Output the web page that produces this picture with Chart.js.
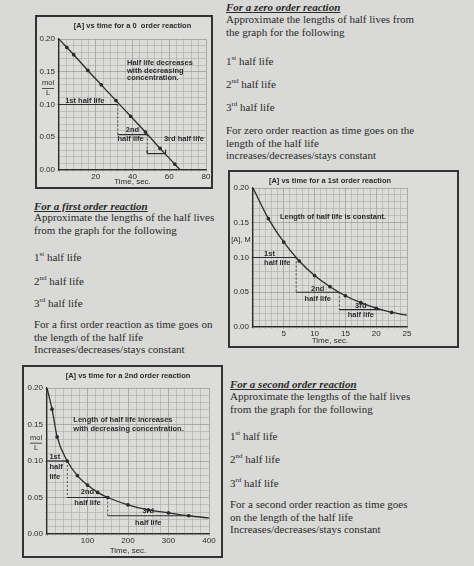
<!DOCTYPE html>
<html>
<head>
<meta charset="utf-8">
<script src="https://cdn.jsdelivr.net/npm/chart.js@4.4.0/dist/chart.umd.min.js"></script>
<style>
  body { margin: 0; width: 474px; height: 566px; background: #d9d9d7; position: relative; overflow: hidden;
         font-family: "Liberation Serif", "DejaVu Serif", serif; color: #2a2a2a; }
  .box { position: absolute; border: 2px solid #333; background: #dcdcda; box-sizing: border-box; }
  .box canvas { display: block; }
  .t { position: absolute; font-size: 11px; line-height: 12.5px; white-space: nowrap; }
  .h { font-weight: bold; font-style: italic; text-decoration: underline; }
  sup { font-size: 7px; }
</style>
</head>
<body>
<div class="box" style="left:35px;top:15px;width:178px;height:174px"><canvas id="chart1" width="174" height="170"></canvas></div>
<div class="box" style="left:228px;top:170px;width:231px;height:178px"><canvas id="chart2" width="227" height="174"></canvas></div>
<div class="box" style="left:22px;top:365px;width:201px;height:193px"><canvas id="chart3" width="197" height="189"></canvas></div>

<div class="t h" style="left:226px;top:1px">For a zero order reaction</div>
<div class="t" style="left:226px;top:13px">Approximate the lengths of half lives from<br>the graph for the following</div>
<div class="t" style="left:226px;top:52px">1<sup>st</sup> half life</div>
<div class="t" style="left:226px;top:75px">2<sup>nd</sup> half life</div>
<div class="t" style="left:226px;top:98px">3<sup>rd</sup> half life</div>
<div class="t" style="left:226px;top:124px">For zero order reaction as time goes on the<br>length of the half life<br>increases/decreases/stays constant</div>

<div class="t h" style="left:34px;top:200px">For a first order reaction</div>
<div class="t" style="left:34px;top:211px">Approximate the lengths of the half lives<br>from the graph for the following</div>
<div class="t" style="left:34px;top:248px">1<sup>st</sup> half life</div>
<div class="t" style="left:34px;top:272px">2<sup>nd</sup> half life</div>
<div class="t" style="left:34px;top:294px">3<sup>rd</sup> half life</div>
<div class="t" style="left:34px;top:318px">For a first order reaction as time goes on<br>the length of the half life<br>Increases/decreases/stays constant</div>

<div class="t h" style="left:230px;top:378px">For a second order reaction</div>
<div class="t" style="left:230px;top:390px">Approximate the lengths of the half lives<br>from the graph for the following</div>
<div class="t" style="left:230px;top:427px">1<sup>st</sup> half life</div>
<div class="t" style="left:230px;top:450px">2<sup>nd</sup> half life</div>
<div class="t" style="left:230px;top:474px">3<sup>rd</sup> half life</div>
<div class="t" style="left:230px;top:498px">For a second order reaction as time goes<br>on the length of the half life<br>Increases/decreases/stays constant</div>

<script>
// zero order
const zeroTimes = [0, 4.3, 8, 15.7, 23, 31, 39, 47, 55, 63, 66];
const zeroConc = [0.20, 0.187, 0.176, 0.152, 0.130, 0.106, 0.082, 0.058, 0.033, 0.009, 0.0];
// first order
const firstTimes = [0, 2.5, 5, 7.5, 10, 12.5, 15, 17.5, 20, 22.5, 25];
const firstConc = [0.20, 0.156, 0.122, 0.095, 0.074, 0.058, 0.045, 0.035, 0.027, 0.021, 0.017];
// second order
const secondTimes = [0, 12.5, 25, 50, 75, 100, 125, 150, 200, 250, 300, 350, 400];
const secondConc = [0.20, 0.171, 0.133, 0.100, 0.080, 0.067, 0.057, 0.050, 0.040, 0.033, 0.029, 0.025, 0.022];

// half life markers [x1, y1, x2, y2, dashed]
const zeroHalf = [[0, 0.10, 32, 0.10, 0], [32, 0.10, 32, 0.054, 1], [32, 0.054, 48, 0.054, 0], [48, 0.054, 48, 0.025, 1], [48, 0.025, 58, 0.025, 0], [48, 0.025, 48, 0.031, 0], [58, 0.025, 58, 0.031, 0]];
const firstHalf = [[0, 0.10, 7, 0.10, 0], [7, 0.10, 7, 0.05, 1], [7, 0.05, 14, 0.05, 0], [14, 0.05, 14, 0.025, 1], [14, 0.025, 21, 0.025, 0]];
const secondHalf = [[0, 0.10, 50, 0.10, 0], [50, 0.10, 50, 0.05, 1], [50, 0.05, 150, 0.05, 0], [150, 0.05, 150, 0.025, 1], [150, 0.025, 350, 0.025, 0]];

// notes [text, x, y, align]
const zeroNotes = [['Half life decreases', 37, 0.163, 'left'], ['with decreasing', 37, 0.152, 'left'], ['concentration.', 37, 0.141, 'left'],
  ['1st half life', 14, 0.105, 'center'], ['2nd', 40, 0.061, 'center'], ['half life', 39, 0.047, 'center'], ['3rd half life', 68, 0.048, 'center']];
const firstNotes = [['Length of half life is constant.', 13, 0.158, 'center'], ['1st', 1.8, 0.105, 'left'], ['half life', 1.8, 0.092, 'left'],
  ['2nd', 10.5, 0.055, 'center'], ['half life', 10.5, 0.041, 'center'], ['3rd', 17.5, 0.031, 'center'], ['half life', 17.5, 0.017, 'center']];
const secondNotes = [['Length of half life increases', 65, 0.156, 'left'], ['with decreasing concentration.', 65, 0.144, 'left'],
  ['1st', 6, 0.106, 'left'], ['half', 6, 0.092, 'left'], ['life', 6, 0.078, 'left'],
  ['2nd', 100, 0.057, 'center'], ['half life', 100, 0.043, 'center'], ['3rd', 250, 0.031, 'center'], ['half life', 250, 0.015, 'center']];

const ink = '#2b2b2b';

function makeChart(id, opt) {
  const datasets = [{
    data: opt.times.map((t, i) => ({ x: t, y: opt.conc[i] })),
    borderColor: ink, borderWidth: 1.3, backgroundColor: ink,
    pointRadius: opt.times.map((t, i) => (i === 0 || i === opt.times.length - 1) ? 0 : 1.2),
    tension: 0.4, cubicInterpolationMode: 'monotone'
  }];
  opt.half.forEach(s => datasets.push({
    data: [{ x: s[0], y: s[1] }, { x: s[2], y: s[3] }],
    borderColor: ink, borderWidth: s[4] ? 0.8 : 1.2, borderDash: s[4] ? [2, 2] : [],
    pointRadius: 0
  }));
  const notes = {
    id: 'notes',
    afterDatasetsDraw(chart) {
      const ctx = chart.ctx, xs = chart.scales.x, ys = chart.scales.y, a = chart.chartArea;
      ctx.save();
      ctx.fillStyle = ink;
      ctx.font = 'bold 7.5px "Liberation Sans", Arial, sans-serif';
      ctx.textBaseline = 'middle';
      opt.notes.forEach(n => {
        ctx.textAlign = n[3];
        ctx.fillText(n[0], xs.getPixelForValue(n[1]), ys.getPixelForValue(n[2]));
      });
      ctx.textAlign = 'center';
      ctx.font = 'bold 7.5px "Liberation Sans", Arial, sans-serif';
      ctx.fillText(opt.title, (a.left + a.right) / 2, 9);
      ctx.font = '7.5px "Liberation Sans", Arial, sans-serif';
      const ly = ys.getPixelForValue(0.125);
      if (opt.unit === 'frac') {
        ctx.fillText('mol', a.left - 11, ly - 5);
        ctx.fillText('L', a.left - 11, ly + 5);
        ctx.fillRect(a.left - 17, ly, 12, 0.8);
      } else {
        ctx.fillText(opt.unit, a.left - 12, ly);
      }
      ctx.restore();
    }
  };
  const fine = v => Math.abs(v / opt.xLabel - Math.round(v / opt.xLabel)) < 1e-6;
  const fineY = v => Math.abs(Math.round(v * 1000) % 50) === 0;
  return new Chart(document.getElementById(id), {
    type: 'line',
    data: { datasets: datasets },
    options: {
      responsive: false, animation: false,
      layout: { padding: { top: opt.pad[0], right: opt.pad[1], left: 0, bottom: 0 } },
      plugins: { legend: { display: false }, tooltip: { enabled: false } },
      scales: {
        x: {
          type: 'linear', min: 0, max: opt.xMax,
          afterFit: s => { s.height = opt.pad[2]; },
          ticks: { stepSize: opt.xStep, autoSkip: false, maxRotation: 0, padding: 0, color: ink,
                   font: { size: 8, family: 'Liberation Sans' },
                   callback: v => (fine(v) && v !== 0) ? v : '' },
          grid: { color: c => fine(c.tick.value) ? '#8a8a8a' : '#a9a9a9', lineWidth: 0.6, tickLength: 2 },
          border: { color: ink, width: 1.2 },
          title: { display: true, text: 'Time, sec.', color: ink, padding: 0, font: { size: 8, family: 'Liberation Sans' } }
        },
        y: {
          min: 0, max: 0.20,
          afterFit: s => { s.width = opt.pad[3]; },
          ticks: { stepSize: 0.01, autoSkip: false, padding: 2, color: ink,
                   font: { size: 8, family: 'Liberation Sans' },
                   callback: v => fineY(v) ? v.toFixed(2) : '' },
          grid: { color: c => fineY(c.tick.value) ? '#8a8a8a' : '#a9a9a9', lineWidth: 0.6, tickLength: 2 },
          border: { color: ink, width: 1.2 }
        }
      }
    },
    plugins: [notes]
  });
}

makeChart('chart1', { times: zeroTimes, conc: zeroConc, half: zeroHalf, notes: zeroNotes, xMax: 80, xStep: 4, xLabel: 20,
  title: '[A] vs time for a 0  order reaction', unit: 'frac', pad: [22, 5, 17, 22] });
makeChart('chart2', { times: firstTimes, conc: firstConc, half: firstHalf, notes: firstNotes, xMax: 25, xStep: 1, xLabel: 5,
  title: '[A] vs time for a 1st order reaction', unit: '[A], M', pad: [16, 50, 19, 23] });
makeChart('chart3', { times: secondTimes, conc: secondConc, half: secondHalf, notes: secondNotes, xMax: 400, xStep: 20, xLabel: 100,
  title: '[A] vs time for a 2nd order reaction', unit: 'frac', pad: [21, 12, 22, 23] });
</script>
</body>
</html>
